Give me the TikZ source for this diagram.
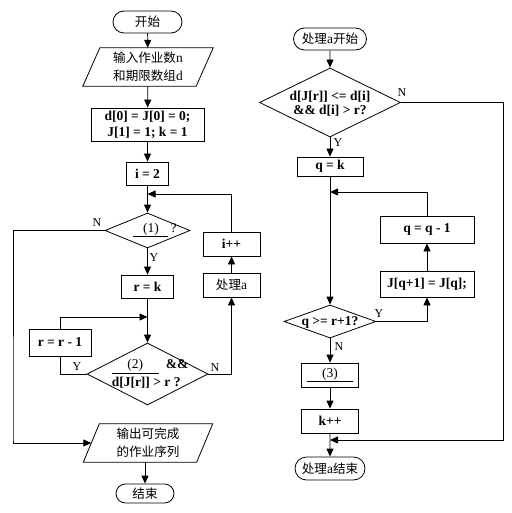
\documentclass[tikz,border=0pt]{standalone}
\usepackage{fontspec}
\setmainfont{Liberation Serif}
\newfontfamily\cjk[Scale=0.93]{Noto Sans CJK SC}
\usetikzlibrary{shapes.misc,shapes.geometric,arrows.meta}
\begin{document}
\begin{tikzpicture}[x=1pt,y=-1pt,
  every node/.style={font=\fontsize{13.5}{16}\selectfont, inner sep=0pt},
  box/.style={draw, rectangle, line width=0.8pt, align=center},
  term/.style={draw, rounded rectangle, line width=0.8pt},
  cond/.style={draw, diamond, line width=0.8pt},
  ghost/.style={rectangle, align=center},
  lbl/.style={font=\fontsize{12}{14}\selectfont},
  ln/.style={line width=0.8pt},
  arr/.style={line width=0.8pt, -{Triangle[length=8pt,width=7pt]}}
]
\useasboundingbox (0,0) rectangle (511,513);

% ---------- left column ----------
\node[term, minimum width=69pt, minimum height=22pt] (start) at (147.5,22) {{\cjk 开始}};
\node[ghost, minimum width=113pt, minimum height=38pt, font=\fontsize{13.5}{18}\selectfont] (in) at (148,67) {{\cjk 输入作业数}n\\{\cjk 和期限数组}d};
\draw[ln] ([xshift=8.5pt]in.north west) -- ([xshift=8.5pt]in.north east) -- ([xshift=-8.5pt]in.south east) -- ([xshift=-8.5pt]in.south west) -- cycle;
\node[box, minimum width=113pt, minimum height=33pt] (init) at (147.5,124.5) {\textbf{d[0] = J[0] = 0;}\\\textbf{J[1] = 1; k = 1}};
\node[box, minimum width=42pt, minimum height=23pt] (i2) at (147.5,173.5) {\textbf{i = 2}};
\node[cond, minimum width=85pt, minimum height=35pt] (d1) at (147.5,230.5) {};
\node[ghost] (t1) at (155,230) {\underline{\makebox[35pt]{(1)}}\,?};
\node[box, minimum width=52pt, minimum height=23pt] (rk) at (147.5,286.5) {\textbf{r = k}};
\node[box, minimum width=57pt, minimum height=24pt] (iplus) at (231.5,244) {\textbf{i++}};
\node[box, minimum width=57pt, minimum height=24pt] (pa) at (231.5,285) {{\cjk 处理}a};
\node[box, minimum width=62pt, minimum height=27pt] (rr) at (60,342.5) {\textbf{r = r - 1}};
\node[cond, minimum width=121pt, minimum height=62pt] (d2) at (147.5,374) {};
\node[ghost, align=left, font=\fontsize{13.5}{18}\selectfont] (t2) at (150,374) {\underline{\makebox[47pt]{(2)}}\hspace{7pt}\textbf{\&\&}\\\textbf{d[J[r]] > r ?}};
\node[ghost, minimum width=113pt, minimum height=38pt, font=\fontsize{13.5}{18}\selectfont] (out) at (148,443) {{\cjk 输出可完成}\\{\cjk 的作业序列}};
\draw[ln] ([xshift=8pt]out.north west) -- ([xshift=8pt]out.north east) -- ([xshift=-8pt]out.south east) -- ([xshift=-8pt]out.south west) -- cycle;
\node[term, minimum width=58pt, minimum height=19pt] (end) at (145,493.5) {{\cjk 结束}};

\coordinate (lj1) at (147.5,194);
\coordinate (lj2) at (147.5,317);
\coordinate (nl) at (13,440);

\draw[arr] (start) -- (in);
\draw[arr] (in) -- (init);
\draw[arr] (init) -- (i2);
\draw[arr] (i2) -- (d1);
\draw[arr] (d1) -- (rk);
\draw[arr] (rk) -- (d2);
\draw[arr] (d2.east) -| (pa.south);
\draw[arr] (pa) -- (iplus);
\draw[arr] (iplus.north) |- (lj1);
\draw[ln] (d2.west) -| (rr.south);
\draw[arr] (rr.north) |- (lj2);
\draw[arr] (d1.west) -| (nl) |- (out.west);
\draw[arr] (end.north |- out.south) -- (end.north);

\node[lbl] (n1) at (97,223) {N};
\node[lbl] (y1) at (154,258) {Y};
\node[lbl] (y2) at (77,367) {Y};
\node[lbl] (n2) at (215,368) {N};

% ---------- right column ----------
\node[term, minimum width=73pt, minimum height=22pt] (pstart) at (330,39) {{\cjk 处理}a{\cjk 开始}};
\node[cond, minimum width=141pt, minimum height=69pt] (d3) at (330,102.5) {};
\node[ghost, font=\fontsize{13.5}{14}\selectfont] (t3) at (330,103.5) {\textbf{d[J[r]] <= d[i]}\\\textbf{\&\& d[i] > r?}};
\node[box, minimum width=66pt, minimum height=19pt] (qk) at (330,166.5) {\textbf{q = k}};
\node[box, minimum width=94pt, minimum height=27pt] (qq1) at (427,229.5) {\textbf{q = q - 1}};
\node[box, minimum width=94pt, minimum height=26pt] (jq) at (427,284) {\textbf{J[q+1] = J[q];}};
\node[cond, minimum width=92pt, minimum height=33pt] (d4) at (330,321.5) {};
\node[ghost] (t4) at (330,322) {\textbf{q >= r+1?}};
\node[box, minimum width=57pt, minimum height=24pt] (b3) at (330,375) {\underline{\makebox[46pt]{(3)}}};
\node[box, minimum width=57pt, minimum height=24pt] (kpp) at (330,421) {\textbf{k++}};
\node[term, minimum width=70pt, minimum height=23pt] (pend) at (330,468.5) {{\cjk 处理}a{\cjk 结束}};

\coordinate (rj) at (330,192);
\coordinate (rn) at (503,440);
\coordinate (mj) at (330,440);

\draw[arr] (pstart) -- (d3);
\draw[arr] (d3) -- (qk);
\draw[arr] (qk) -- (d4);
\draw[arr] (d4.east) -| (jq.south);
\draw[arr] (jq) -- (qq1);
\draw[arr] (qq1.north) |- (rj);
\draw[arr] (d4) -- (b3);
\draw[arr] (b3) -- (kpp);
\draw[arr] (kpp) -- (pend);
\draw[arr] (d3.east) -| (rn) -- (mj);

\node[lbl] (n3) at (402,93) {N};
\node[lbl] (y3) at (338,143) {Y};
\node[lbl] (y4) at (379,314) {Y};
\node[lbl] (n4) at (339,347) {N};
\end{tikzpicture}
\end{document}
